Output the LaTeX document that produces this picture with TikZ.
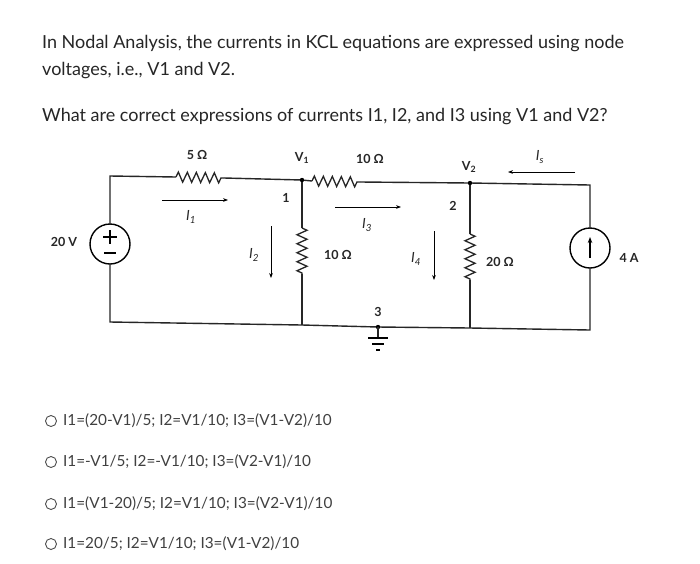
\documentclass[tikz,border=0pt]{standalone}
\usepackage{fontspec}
\setmainfont{Lato}
\usetikzlibrary{decorations.pathmorphing,arrows.meta}
\begin{document}
\begin{tikzpicture}[x=1pt,y=-1pt,
  wire/.style={line width=1.4pt,color=black!85},
  res/.style={line width=1.3pt,color=black!85,decorate,decoration={zigzag,segment length=9pt,amplitude=5pt}},
  lbl/.style={font=\bfseries\fontsize{12.5}{14}\selectfont,inner sep=1pt,text=black!85},
  cur/.style={font=\itshape\fontsize{14}{15}\selectfont,inner sep=1pt,text=black!85},
  arr/.style={line width=1pt,-{Stealth[length=5pt]}},
  txt/.style={font=\fontsize{18}{21}\selectfont,anchor=west,inner sep=0pt,text=black!85},
  opt/.style={font=\fontsize{15.3}{17}\selectfont,anchor=west,inner sep=0pt,text=black!75}]
\fill[white] (0,0) rectangle (700,563);
\useasboundingbox (0,0) rectangle (700,563);
\node[txt] (t1) at (42,44) {In Nodal Analysis, the currents in KCL equations are expressed using node};
\node[txt] (t2) at (42,71) {voltages, i.e., V1 and V2.};
\node[txt] (t3) at (42,117) {What are correct expressions of currents I1, I2, and I3 using V1 and V2?};
% coordinates
\coordinate (tl) at (110,176);
\coordinate (bl) at (110,322);
\coordinate (v1) at (302,180);
\coordinate (b1) at (302,325);
\coordinate (v2) at (470,183);
\coordinate (b2) at (470,328);
\coordinate (tr) at (590,185);
\coordinate (br) at (590,330);
\coordinate (g) at (378,327);
\coordinate (r1a) at (176,177);
\coordinate (r1b) at (224,178);
\coordinate (r2a) at (302,228);
\coordinate (r2b) at (302,274);
\coordinate (r3a) at (312,181);
\coordinate (r3b) at (360,182);
\coordinate (r4a) at (470,234);
\coordinate (r4b) at (470,280);
\coordinate (vs) at (110,244);
\coordinate (vsn) at (110,224);
\coordinate (vss) at (110,264);
\coordinate (cs) at (590,248);
\coordinate (csn) at (590,228);
\coordinate (css) at (590,268);
\draw[line width=1.4pt] (vs) circle (20);
\draw[line width=1.4pt] (cs) circle (20);
\draw[line width=1.6pt] (103,237) -- (117,237) (110,230) -- (110,244);
\draw[line width=1.6pt] (104,253) -- (116,253);
\draw[line width=1.4pt,-{Stealth[length=6pt]}] (590,258) -- (590,237);
% wires
\draw[wire] (vsn) -- (tl) -- (r1a);
\draw[res] (r1a) -- (r1b);
\draw[wire] (r1b) -- (v1) -- (r3a);
\draw[res] (r3a) -- (r3b);
\draw[wire] (r3b) -- (v2) -- (tr) -- (csn);
\draw[wire] (vss) -- (bl) -- (b1) -- (g) -- (b2) -- (br) -- (css);
\draw[wire] (v1) -- (r2a); \draw[res] (r2a) -- (r2b); \draw[wire] (r2b) -- (b1);
\draw[wire] (v2) -- (r4a); \draw[res] (r4a) -- (r4b); \draw[wire] (r4b) -- (b2);
\fill (v1) circle (2.2); \fill (v2) circle (2.2); \fill (g) circle (2.2);
% ground
\coordinate (g1) at (378,338);
\draw[wire] (g) -- (g1);
\draw[line width=1.4pt] (368,338) -- (388,338);
\draw[line width=1.4pt] (372,344) -- (384,344);
\draw[line width=1.4pt] (376,350) -- (380,350);
% labels
\node[lbl] (l5) at (197,155) {5 Ω};
\node[lbl] (lv1) at (302,158) {V\textsubscript{1}};
\node[lbl] (l10a) at (370,159) {10 Ω};
\node[lbl] (lv2) at (469,167) {V\textsubscript{2}};
\node[lbl] (n1) at (286,198) {1};
\node[lbl] (n2) at (453,206) {2};
\node[lbl] (n3) at (378,312) {3};
\node[lbl] (l20v) at (64,242) {20 V};
\node[lbl] (l10b) at (338,255) {10 Ω};
\node[lbl] (l20) at (500,262) {20 Ω};
\node[lbl] (l4a) at (629,258) {4 A};
% currents
\coordinate (a1s) at (162,200); \coordinate (a1e) at (228,200);
\draw[arr] (a1s) -- (a1e); \node[cur] (i1) at (191,217) {I\textsubscript{1}};
\coordinate (a3s) at (335,207); \coordinate (a3e) at (401,207);
\draw[arr] (a3s) -- (a3e); \node[cur] (i3) at (367,225) {I\textsubscript{3}};
\coordinate (a2s) at (271,226); \coordinate (a2e) at (271,278);
\draw[arr] (a2s) -- (a2e); \node[cur] (i2) at (254,255) {I\textsubscript{2}};
\coordinate (a4s) at (434,231); \coordinate (a4e) at (434,280);
\draw[arr] (a4s) -- (a4e); \node[cur] (i4) at (416,259) {I\textsubscript{4}};
\coordinate (asS) at (575,172); \coordinate (asE) at (508,172);
\draw[arr] (asS) -- (asE); \node[cur] (is) at (540,157) {I\textsubscript{s}};
% options
\foreach \y/\t [count=\k] in {421/{I1=(20-V1)/5; I2=V1/10; I3=(V1-V2)/10},
  462/{I1=-V1/5; I2=-V1/10; I3=(V2-V1)/10},
  504/{I1=(V1-20)/5; I2=V1/10; I3=(V2-V1)/10},
  544/{I1=20/5; I2=V1/10; I3=(V1-V2)/10}}{
  \node[circle,draw=black!70,line width=0.9pt,minimum size=11pt,inner sep=0pt] (c\k) at (51,\y) {};
  \node[opt] (o\k) at (63,\y) {\t};
}
\end{tikzpicture}
\end{document}
